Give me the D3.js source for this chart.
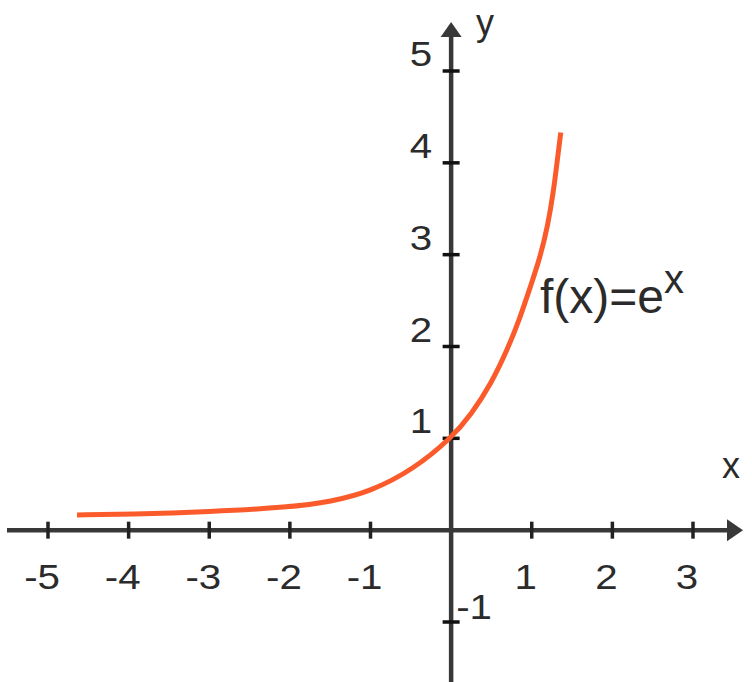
<!DOCTYPE html>
<html>
<head>
<meta charset="utf-8">
<script src="https://cdn.jsdelivr.net/npm/d3@7"></script>
<style>
  html, body { margin: 0; padding: 0; background: #fff; }
  svg { display: block; }
  text { font-family: "Liberation Sans", Arial, Helvetica, sans-serif; fill: #2b2b2b; }
</style>
</head>
<body>
<svg id="chart" width="752" height="682"></svg>
<script>
// Data
const curveX = [-4.64, -3.99, -3.0, -2.0, -1.49, -1.0, -0.47, 0.0, 0.25, 0.5, 0.7, 0.85, 0.99, 1.10, 1.20, 1.27, 1.32, 1.36];
const curveY = [0.166, 0.173, 0.20, 0.25, 0.31, 0.42, 0.66, 1.0, 1.26, 1.60, 1.97, 2.30, 2.67, 2.96, 3.32, 3.69, 4.05, 4.33];
const xTicksNeg = [-5, -4, -3, -2, -1];
const xTicksPos = [1, 2, 3];
const yTicksPos = [1, 2, 3, 4, 5];
const yTicksNeg = [-1];
const xAxisLabel = "x";
const yAxisLabel = "y";
const funcLabel = "f(x)=e";
const funcSup = "x";

const W = 752, H = 682;
const svg = d3.select("#chart");

const x = d3.scaleLinear().domain([-5, 3]).range([48, 693]);
const y = d3.scaleLinear().domain([-1, 5]).range([622, 71]);

const axisColor = "#383838";
const x0 = x(0), y0 = y(0);

// axis lines
svg.append("line").attr("x1", 7).attr("x2", 728).attr("y1", y0).attr("y2", y0)
  .attr("stroke", axisColor).attr("stroke-width", 4.5);
svg.append("line").attr("x1", x0).attr("x2", x0).attr("y1", H).attr("y2", 36)
  .attr("stroke", axisColor).attr("stroke-width", 4.5);

// arrow heads
svg.append("path")
  .attr("d", `M${743},${y0} L${727},${y0 - 11} L${727},${y0 + 11} Z`)
  .attr("fill", axisColor);
svg.append("path")
  .attr("d", `M${x0},${22} L${x0 - 10.5},${37} L${x0 + 10.5},${37} Z`)
  .attr("fill", axisColor);

// x ticks
const allX = xTicksNeg.concat(xTicksPos);
svg.selectAll(".xt").data(allX).enter().append("line")
  .attr("x1", d => x(d)).attr("x2", d => x(d))
  .attr("y1", y0 - 8.5).attr("y2", y0 + 8.5)
  .attr("stroke", "#222").attr("stroke-width", 3.5);

// y ticks
const allY = yTicksNeg.concat(yTicksPos);
svg.selectAll(".yt").data(allY).enter().append("line")
  .attr("y1", d => y(d)).attr("y2", d => y(d))
  .attr("x1", x0 - 8.5).attr("x2", x0 + 8.5)
  .attr("stroke", "#111").attr("stroke-width", 3.5);

// helper: horizontally widened label
const SX = 1.12;
function label(data, px, py, anchor, fmt, size) {
  const g = svg.append("g");
  g.selectAll("g").data(data).enter().append("g")
    .attr("transform", d => `translate(${px(d)},${py(d)}) scale(${SX},1)`)
    .append("text")
    .attr("text-anchor", anchor).attr("font-size", size)
    .text(fmt);
}

// x tick labels
label(xTicksNeg, d => x(d) + 12, () => 589, "end", d => "-" + Math.abs(d), 36);
label(xTicksPos, d => x(d) - 6, () => 589, "middle", d => String(d), 36);

// y tick labels
label(yTicksPos, () => x0 - 19, d => y(d) - 5, "end", d => String(d), 36);
label(yTicksNeg, () => x0 + 5, d => y(d) - 3, "start", d => "-" + Math.abs(d), 36);

// axis names
svg.append("text").attr("x", 722).attr("y", 478).attr("font-size", 36).text(xAxisLabel);
svg.append("text").attr("x", 476).attr("y", 35).attr("font-size", 36).text(yAxisLabel);

// curve
const pts = curveX.map((v, i) => [v, curveY[i]]);
const line = d3.line().x(d => x(d[0])).y(d => y(d[1])).curve(d3.curveBasis);
svg.append("path").datum(pts).attr("d", line)
  .attr("fill", "none").attr("stroke", "#fb5b2b").attr("stroke-width", 5)
  .attr("stroke-linecap", "butt");

// function label
const fl = svg.append("text").attr("x", 540).attr("y", 313).attr("font-size", 48);
fl.append("tspan").text(funcLabel);
fl.append("tspan").attr("font-size", 40).attr("dy", -20).text(funcSup);
</script>
</body>
</html>
